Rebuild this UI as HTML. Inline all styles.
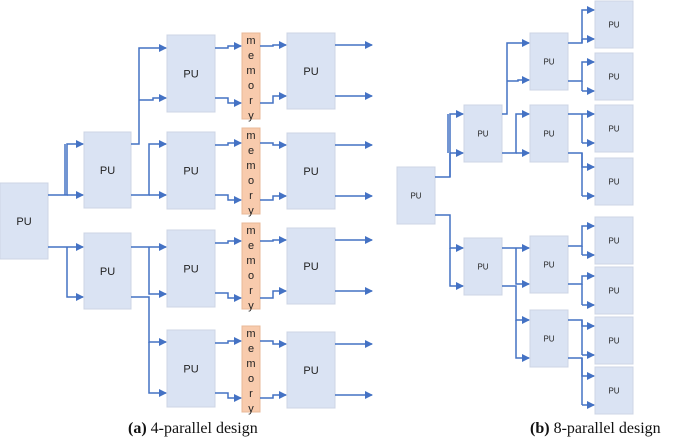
<!DOCTYPE html>
<html><head><meta charset="utf-8"><style>
html,body{margin:0;padding:0;background:#fff;width:685px;height:440px;overflow:hidden}
svg{display:block}
.pu{fill:#dae3f3;stroke:#cdd5e4;stroke-width:1}
.mem{fill:#f8cbad;stroke:#e8b898;stroke-width:1}
.ln{fill:none;stroke:#4472c4;stroke-width:1.5}
text{font-family:"Liberation Sans","DejaVu Sans",sans-serif;fill:#222}
.cap{font-family:"Liberation Serif",serif;font-size:16px;fill:#111}
</style></head><body>
<svg id="s" width="685" height="440" xmlns="http://www.w3.org/2000/svg">
<defs><marker id="a" markerWidth="8" markerHeight="8" refX="7" refY="4" orient="auto" markerUnits="userSpaceOnUse"><path d="M0,0 L8,4 L0,8 z" fill="#4472c4"/></marker></defs>
<g id="g"></g>
<text class="cap" x="128" y="433"><tspan font-weight="bold">(a)</tspan> 4-parallel design</text>
<text class="cap" x="530" y="433"><tspan font-weight="bold">(b)</tspan> 8-parallel design</text>
</svg>
<script>
var g=document.getElementById('g'),h='';
function box(x,y,w,hh,fs){h+='<rect class="pu" x="'+x+'" y="'+y+'" width="'+w+'" height="'+hh+'"/><text x="'+(x+w/2)+'" y="'+(y+hh/2+fs*0.36)+'" font-size="'+fs+'" text-anchor="middle">PU</text>';}
function ar(p){h+='<polyline class="ln" points="'+p+'" marker-end="url(#a)"/>';}
function ln(p){h+='<polyline class="ln" points="'+p+'"/>';}
function mem(x,y){h+='<rect class="mem" x="'+x+'" y="'+y+'" width="18" height="86"/>';var L='memory';for(var i=0;i<6;i++)h+='<text x="'+(x+9)+'" y="'+(y+11+i*15)+'" font-size="11" text-anchor="middle">'+L[i]+'</text>';}
// (a)
box(0,183,48,76,11);box(84,132,47,76,11);box(84,233,47,76,11);
var c2=[35,132,230,330],mm=[33,128,223,326],c3=[33,133,228,332];
for(var i=0;i<4;i++){box(167,c2[i],48,77,11);mem(242,mm[i]);box(287,c3[i],48,76,11);
var a=c2[i]+13,b=c2[i]+63;
ar('215,'+a+' 228,'+a+' 228,'+(a-2)+' 241,'+(a-2));
ar('215,'+b+' 228,'+b+' 228,'+(b+5)+' 241,'+(b+5));
var o1=c3[i]+12,o2=c3[i]+63;
ar('260,'+(a-2)+' 273,'+(a-2)+' 273,'+o1+' 286,'+o1);
ar('260,'+(b+5)+' 273,'+(b+5)+' 273,'+o2+' 286,'+o2);
ar('335,'+o1+' 372,'+o1);ar('335,'+o2+' 372,'+o2);}
ar('48,195 67,195 67,144 83,144');ar('67,195 70,195 70,195 83,195');ln('65,195 65,144');
ar('48,247 67,247 83,247');ar('67,247 67,297 83,297');
ar('131,144 139,144 139,48 166,48');ar('139,100 153,100 153,98 166,98');
ar('131,195 149,195 149,144 166,144');ar('149,195 166,195');
ar('131,247 149,247 166,247');ar('149,247 149,294 166,294');
ar('131,297 149,297 149,342 166,342');ar('149,342 149,393 166,393');
// (b)
box(397,167,38,57,8);box(464,105,38,57,8);box(464,238,38,57,8);
var l2=[33,105,236,310];for(i=0;i<4;i++)box(530,l2[i],38,57,8);
var l3=[1,53,105,158,217,267,317,367];for(i=0;i<8;i++)box(595,l3[i],38,47,8);
ar('435,177 450,177 450,114 463,114');ar('450,153 463,153');ln('450,177 450,153');ln('448,153 448,114');
ar('435,215 450,215 450,248 463,248');ar('450,248 450,286 463,286');
ar('502,114 507,114 507,43 529,43');ar('507,81 518,81 518,80 529,80');
ar('502,153 516,153 516,114 529,114');ar('516,153 529,153');
ar('502,248 516,248 529,248');ar('516,248 516,284 529,284');
ar('502,286 516,286 516,320 529,320');ar('516,320 516,358 529,358');
var outs=[[43,81],[114,153],[246,284],[320,358]];
for(i=0;i<4;i++){for(var j=0;j<2;j++){var t=l3[i*2+j],y=outs[i][j],i1=t+9,i2=t+38;
ar('568,'+y+' 582,'+y+' 582,'+i1+' 594,'+i1);ln('582,'+y+' 582,'+i2);ar('582,'+i2+' 594,'+i2);}}
g.innerHTML=h;
</script>
</body></html>
